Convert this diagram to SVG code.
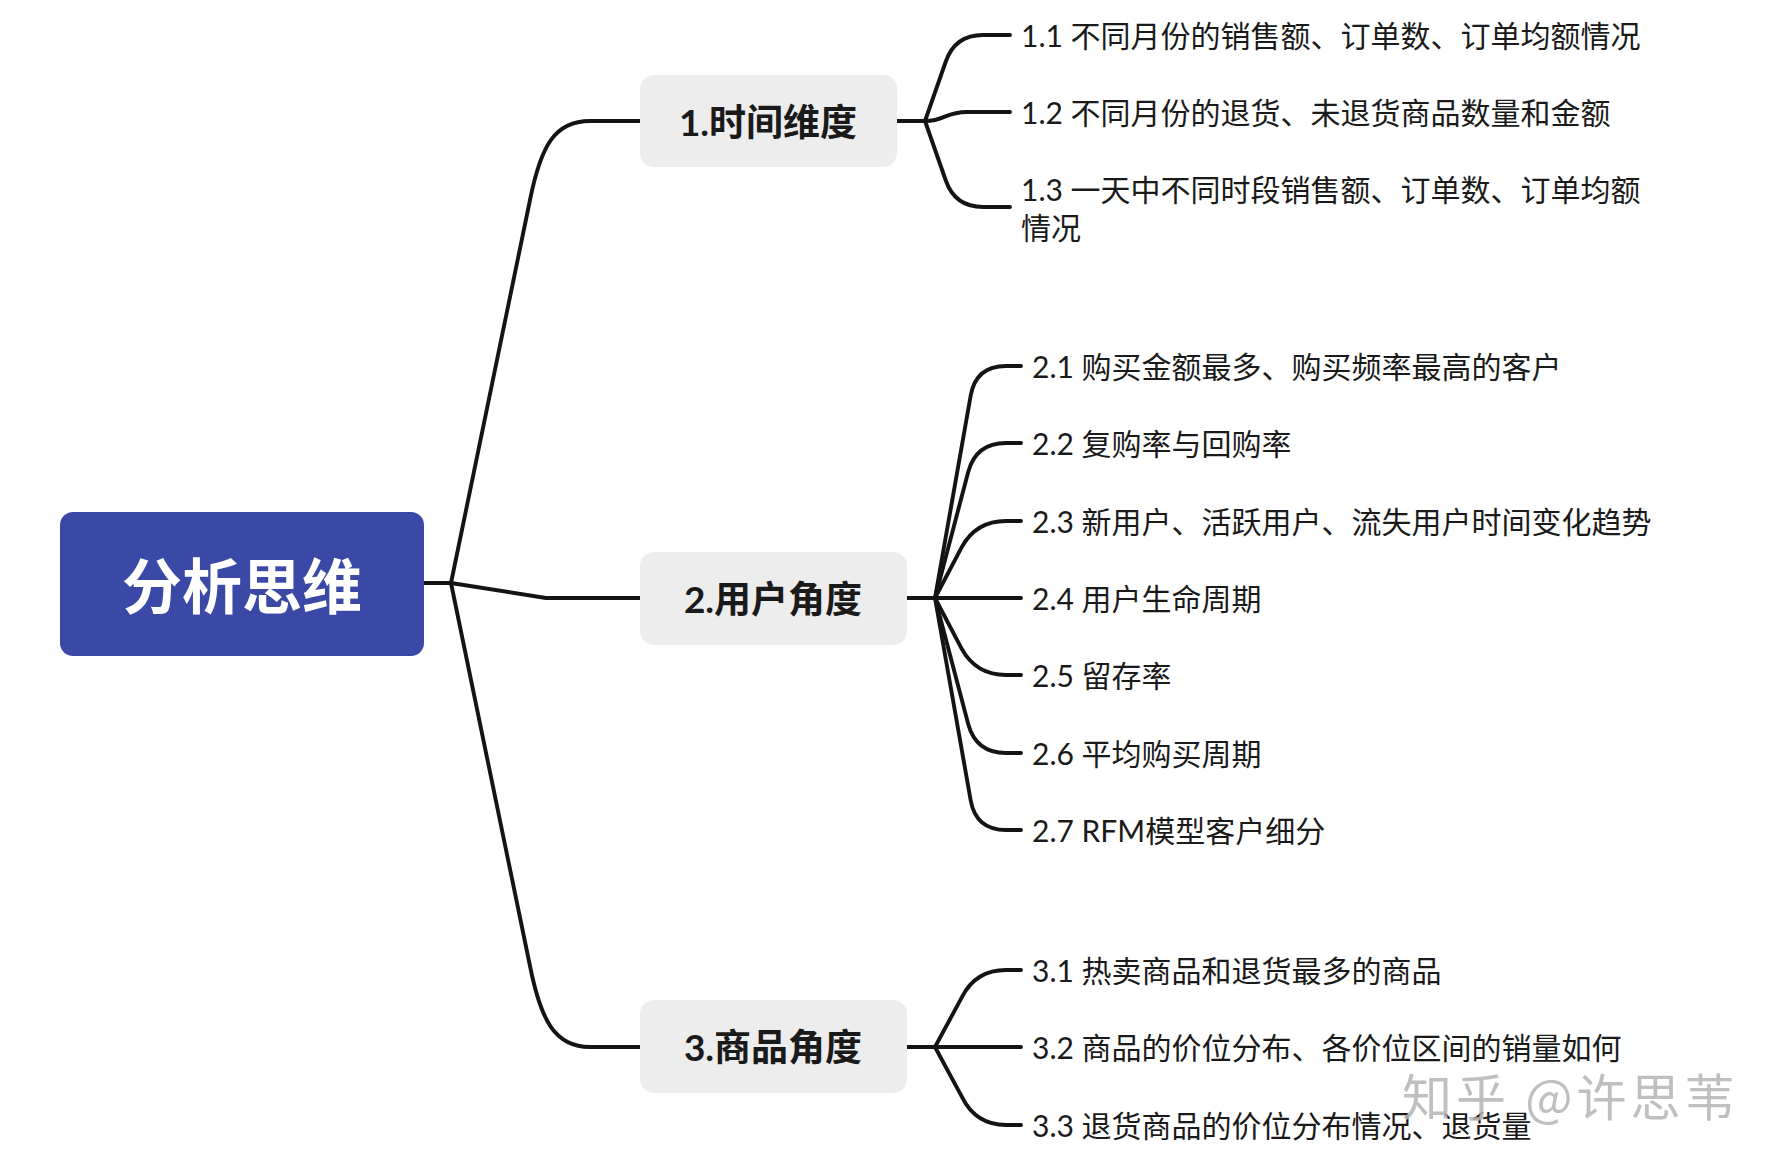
<svg xmlns="http://www.w3.org/2000/svg" width="1773" height="1167" viewBox="0 0 1773 1167">
<style>
.root{fill:#3b49a6}
.rootT{font-family:"Lato","Noto Sans CJK SC",sans-serif;font-size:60px;font-weight:bold;fill:#ffffff}
.sub{fill:#ededed}
.subT{font-family:"Lato","Noto Sans CJK SC",sans-serif;font-size:37px;font-weight:bold;fill:#1a1a1a}
.leafT{font-family:"Lato","Noto Sans CJK SC",sans-serif;font-size:30px;fill:#1a1a1a}
.conn{fill:none;stroke:#141414;stroke-width:3.9;stroke-linecap:round;stroke-linejoin:round}
.wm{font-family:"Noto Sans CJK SC",sans-serif;font-size:50px;fill:#b4b4b4;opacity:0.85;letter-spacing:4px}
</style>
<rect width="1773" height="1167" fill="#ffffff"/>
<g id="connectors" class="conn">
  <path d="M424,583 H451"/>
  <path d="M451,583 L530,200 C541,145 555,121 590,121 H640"/>
  <path d="M451,583 L546,598 H640"/>
  <path d="M451,583 L530,966 C541,1021 555,1047 590,1047 H640"/>
  <path d="M897,121 H925"/>
  <path d="M925,121 L945.8,61.5 Q955,35 983,35 H1010"/>
  <path d="M925,121 C945,121 945,112 967,112 H1010"/>
  <path d="M925,121 L945.8,180.5 Q955,207 983,207 H1010"/>
  <path d="M907,598 H935"/>
  <path d="M935,598 L970.7,395.5 Q976,366 1006,366 H1021"/>
  <path d="M935,598 L968.2,472 Q976,443 1006,443 H1021"/>
  <path d="M935,598 L961.6,547.3 Q976,521 1006,521 H1021"/>
  <path d="M935,598 H1021"/>
  <path d="M935,598 L961.6,648.7 Q976,675 1006,675 H1021"/>
  <path d="M935,598 L968.2,724 Q976,753 1006,753 H1021"/>
  <path d="M935,598 L970.7,800.5 Q976,830 1006,830 H1021"/>
  <path d="M907,1047 H935"/>
  <path d="M935,1047 L962.2,996.6 Q976,970 1006,970 H1021"/>
  <path d="M935,1047 H1021"/>
  <path d="M935,1047 L962.2,1097.4 Q976,1125 1006,1125 H1021"/>
</g>
<g id="root">
  <rect class="root" x="60" y="512" width="364" height="144" rx="13"/>
  <text class="rootT" x="242" y="586" text-anchor="middle" dominant-baseline="central">分析思维</text>
</g>
<g id="n1">
  <rect class="sub" x="640" y="75" width="257" height="92" rx="14"/>
  <text class="subT" x="768" y="121" text-anchor="middle" dominant-baseline="central">1.时间维度</text>
</g>
<g id="n2">
  <rect class="sub" x="640" y="552" width="267" height="93" rx="14"/>
  <text class="subT" x="773" y="598" text-anchor="middle" dominant-baseline="central">2.用户角度</text>
</g>
<g id="n3">
  <rect class="sub" x="640" y="1000" width="267" height="93" rx="14"/>
  <text class="subT" x="773" y="1046" text-anchor="middle" dominant-baseline="central">3.商品角度</text>
</g>
<g id="n1_1"><text class="leafT" x="1021" y="35" dominant-baseline="central">1.1 不同月份的销售额、订单数、订单均额情况</text></g>
<g id="n1_2"><text class="leafT" x="1021" y="112" dominant-baseline="central">1.2 不同月份的退货、未退货商品数量和金额</text></g>
<g id="n1_3"><text class="leafT" x="1021" y="189" dominant-baseline="central">1.3 一天中不同时段销售额、订单数、订单均额</text><text class="leafT" x="1021" y="227" dominant-baseline="central">情况</text></g>
<g id="n2_1"><text class="leafT" x="1032" y="366" dominant-baseline="central">2.1 购买金额最多、购买频率最高的客户</text></g>
<g id="n2_2"><text class="leafT" x="1032" y="443" dominant-baseline="central">2.2 复购率与回购率</text></g>
<g id="n2_3"><text class="leafT" x="1032" y="521" dominant-baseline="central">2.3 新用户、活跃用户、流失用户时间变化趋势</text></g>
<g id="n2_4"><text class="leafT" x="1032" y="598" dominant-baseline="central">2.4 用户生命周期</text></g>
<g id="n2_5"><text class="leafT" x="1032" y="675" dominant-baseline="central">2.5 留存率</text></g>
<g id="n2_6"><text class="leafT" x="1032" y="753" dominant-baseline="central">2.6 平均购买周期</text></g>
<g id="n2_7"><text class="leafT" x="1032" y="830" dominant-baseline="central">2.7 RFM模型客户细分</text></g>
<g id="n3_1"><text class="leafT" x="1032" y="970" dominant-baseline="central">3.1 热卖商品和退货最多的商品</text></g>
<g id="n3_2"><text class="leafT" x="1032" y="1047" dominant-baseline="central">3.2 商品的价位分布、各价位区间的销量如何</text></g>
<g id="n3_3"><text class="leafT" x="1032" y="1125" dominant-baseline="central">3.3 退货商品的价位分布情况、退货量</text></g>
<text class="wm" x="1402" y="1094" dominant-baseline="central">知乎 @许思苇</text>
</svg>
